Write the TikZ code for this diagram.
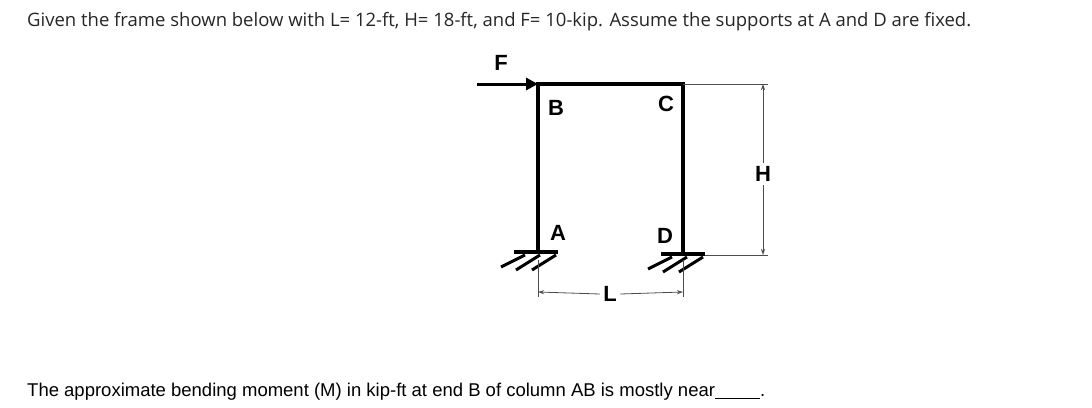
\documentclass[tikz,border=0pt]{standalone}
\usepackage{fontspec}
\setmainfont{Liberation Sans}
\newfontfamily\osans{Open Sans}
\usetikzlibrary{arrows.meta}
\begin{document}
\begin{tikzpicture}[x=1pt,y=-1pt,
  member/.style={line width=4pt},
  dim/.style={line width=0.8pt,black!70},
  lbl/.style={font=\bfseries\fontsize{22}{22}\selectfont},
  hatch/.style={line width=3pt}]
\useasboundingbox (0,0) rectangle (1092,407);
\node[anchor=west,font=\osans\fontsize{18.5}{20}\selectfont,text=black!85,inner sep=0pt] (t) at (27,22) {Given the frame shown below with L= 12-ft, H= 18-ft, and F= 10-kip. Assume the supports at A and D are fixed.};
\coordinate (A) at (538,252); \coordinate (B) at (538,84);
\coordinate (C) at (683,84); \coordinate (D) at (683,252);
\draw[member] (A) -- (B) -- (C) -- (D);
\coordinate (Fs) at (477,84);
\draw[line width=3pt,-{Triangle[length=12pt,width=12pt]}] (Fs) -- (B);
\node[lbl] (F) at (501,63) {F};
\node[lbl] (lB) at (556,108) {B};
\node[lbl] (lC) at (666,104) {C};
\node[lbl] (lA) at (558,233) {A};
\node[lbl] (lD) at (665,236) {D};
% supports
\draw[line width=4.5pt] (514,252) -- (558,252);
\draw[line width=4.5pt] (661,254) -- (705,254);
\foreach \x/\l in {525/0,540/1,556/1}{\draw[hatch] (\x,255) -- (\x-24,267+3*\l);}
\foreach \x/\l in {672/0,687/1,703/1}{\draw[hatch] (\x,257) -- (\x-24,269+3*\l);}
% H dimension
\draw[dim] (C) -- (768,84);
\draw[dim] (705,255) -- (768,255);
\node[lbl] (H) at (763,174) {H};
\draw[dim,-{Stealth[length=6pt,width=4pt]}] (H.north) -- (763,84);
\draw[dim,-{Stealth[length=6pt,width=4pt]}] (H.south) -- (763,255);
% L dimension
\draw[dim] (538,260) -- (538,297);
\draw[dim] (683,260) -- (683,297);
\node[lbl] (L) at (610,294) {L};
\draw[dim,-{Stealth[length=6pt,width=4pt]}] (L.west) -- (538,292);
\draw[dim,-{Stealth[length=6pt,width=4pt]}] (L.east) -- (683,292);
\node[anchor=west,font=\fontsize{18.5}{20}\selectfont,inner sep=0pt] (q) at (27,392) {The approximate bending moment (M) in kip-ft at end B of column AB is mostly near\rule[-2pt]{45pt}{0.8pt}.};
\end{tikzpicture}
\end{document}
